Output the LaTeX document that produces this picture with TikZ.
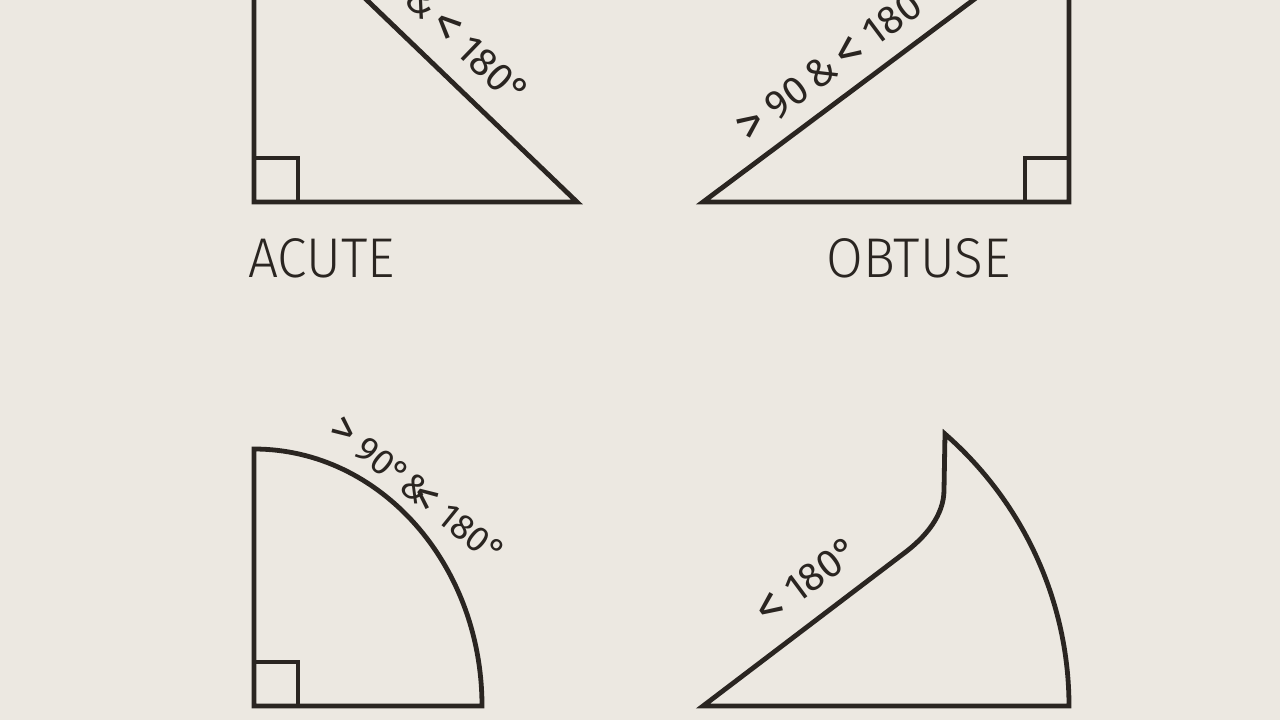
\documentclass[tikz,border=0pt]{standalone}
\usepackage{graphicx}
\usepackage{fontspec}
\setmainfont{Fira Sans}
\newfontfamily\titlefont{Fira Sans}[UprightFont=* Light, FakeStretch=0.95]
\newcommand{\lsym}{\raisebox{-0.07em}{\scalebox{1.3}{<}}}
\newcommand{\gsym}{\raisebox{-0.07em}{\scalebox{1.3}{>}}}
\definecolor{bg}{HTML}{ECE8E1}
\definecolor{ink}{HTML}{2A2521}
\begin{document}
\begin{tikzpicture}[x=0.5pt,y=-0.5pt,
  shapeline/.style={draw=ink, line width=2.4pt, line join=miter},
  angletext/.style={text=ink, font=\fontsize{20}{22}\selectfont, inner sep=0pt},
  titletext/.style={text=ink, font=\titlefont\fontsize{28}{32}\selectfont, inner sep=0pt}]
\fill[bg] (0,0) rectangle (1280,720);
\useasboundingbox (0,0) rectangle (1280,720);
\clip (0,0) rectangle (1280,720);
% top-left triangle (acute)
\draw[shapeline] (346,-20) -- (577,202) -- (254,202) -- (254,-20);
\draw[shapeline] (254,158) -- (298,158) -- (298,202);
% top-right triangle (obtuse)
\draw[shapeline] (1000,-20) -- (703,202) -- (1069,202) -- (1069,-20);
\draw[shapeline] (1025,202) -- (1025,158) -- (1069,158);
% bottom-left quarter
\draw[shapeline] (254,449) .. controls (380,449) and (482,564) .. (482,706) -- (254,706) -- cycle;
\draw[shapeline] (254,662) -- (298,662) -- (298,706);
% bottom-right shape
\draw[shapeline] (703,706) -- (903,554) .. controls (926,537) and (944,515) .. (944,490) -- (945,434)
  .. controls (1023.7,502.8) and (1069,601.9) .. (1069,706) -- cycle;
% texts
\node[angletext, rotate=-44, anchor=south east] (tla) at (512,112) {\gsym{} 90\,\&\,\lsym{} 180°};
\node[angletext, rotate=36.8, anchor=south west] (tra) at (750,146) {\gsym{} 90\,\&\,\lsym{} 180°};
\node[angletext, rotate=-39, font=\fontsize{18}{20}\selectfont] (bla) at (417,491) {\gsym{} 90°\&\kern-0.3em\lsym{} 180°};
\node[angletext, rotate=36.5] (bra) at (808,581) {\lsym{} 180°};
\node[titletext, anchor=base west] (acute) at (248,277) {ACUTE};
\node[titletext, anchor=base west] (obtuse) at (826,277) {OBTUSE};
\end{tikzpicture}
\end{document}
